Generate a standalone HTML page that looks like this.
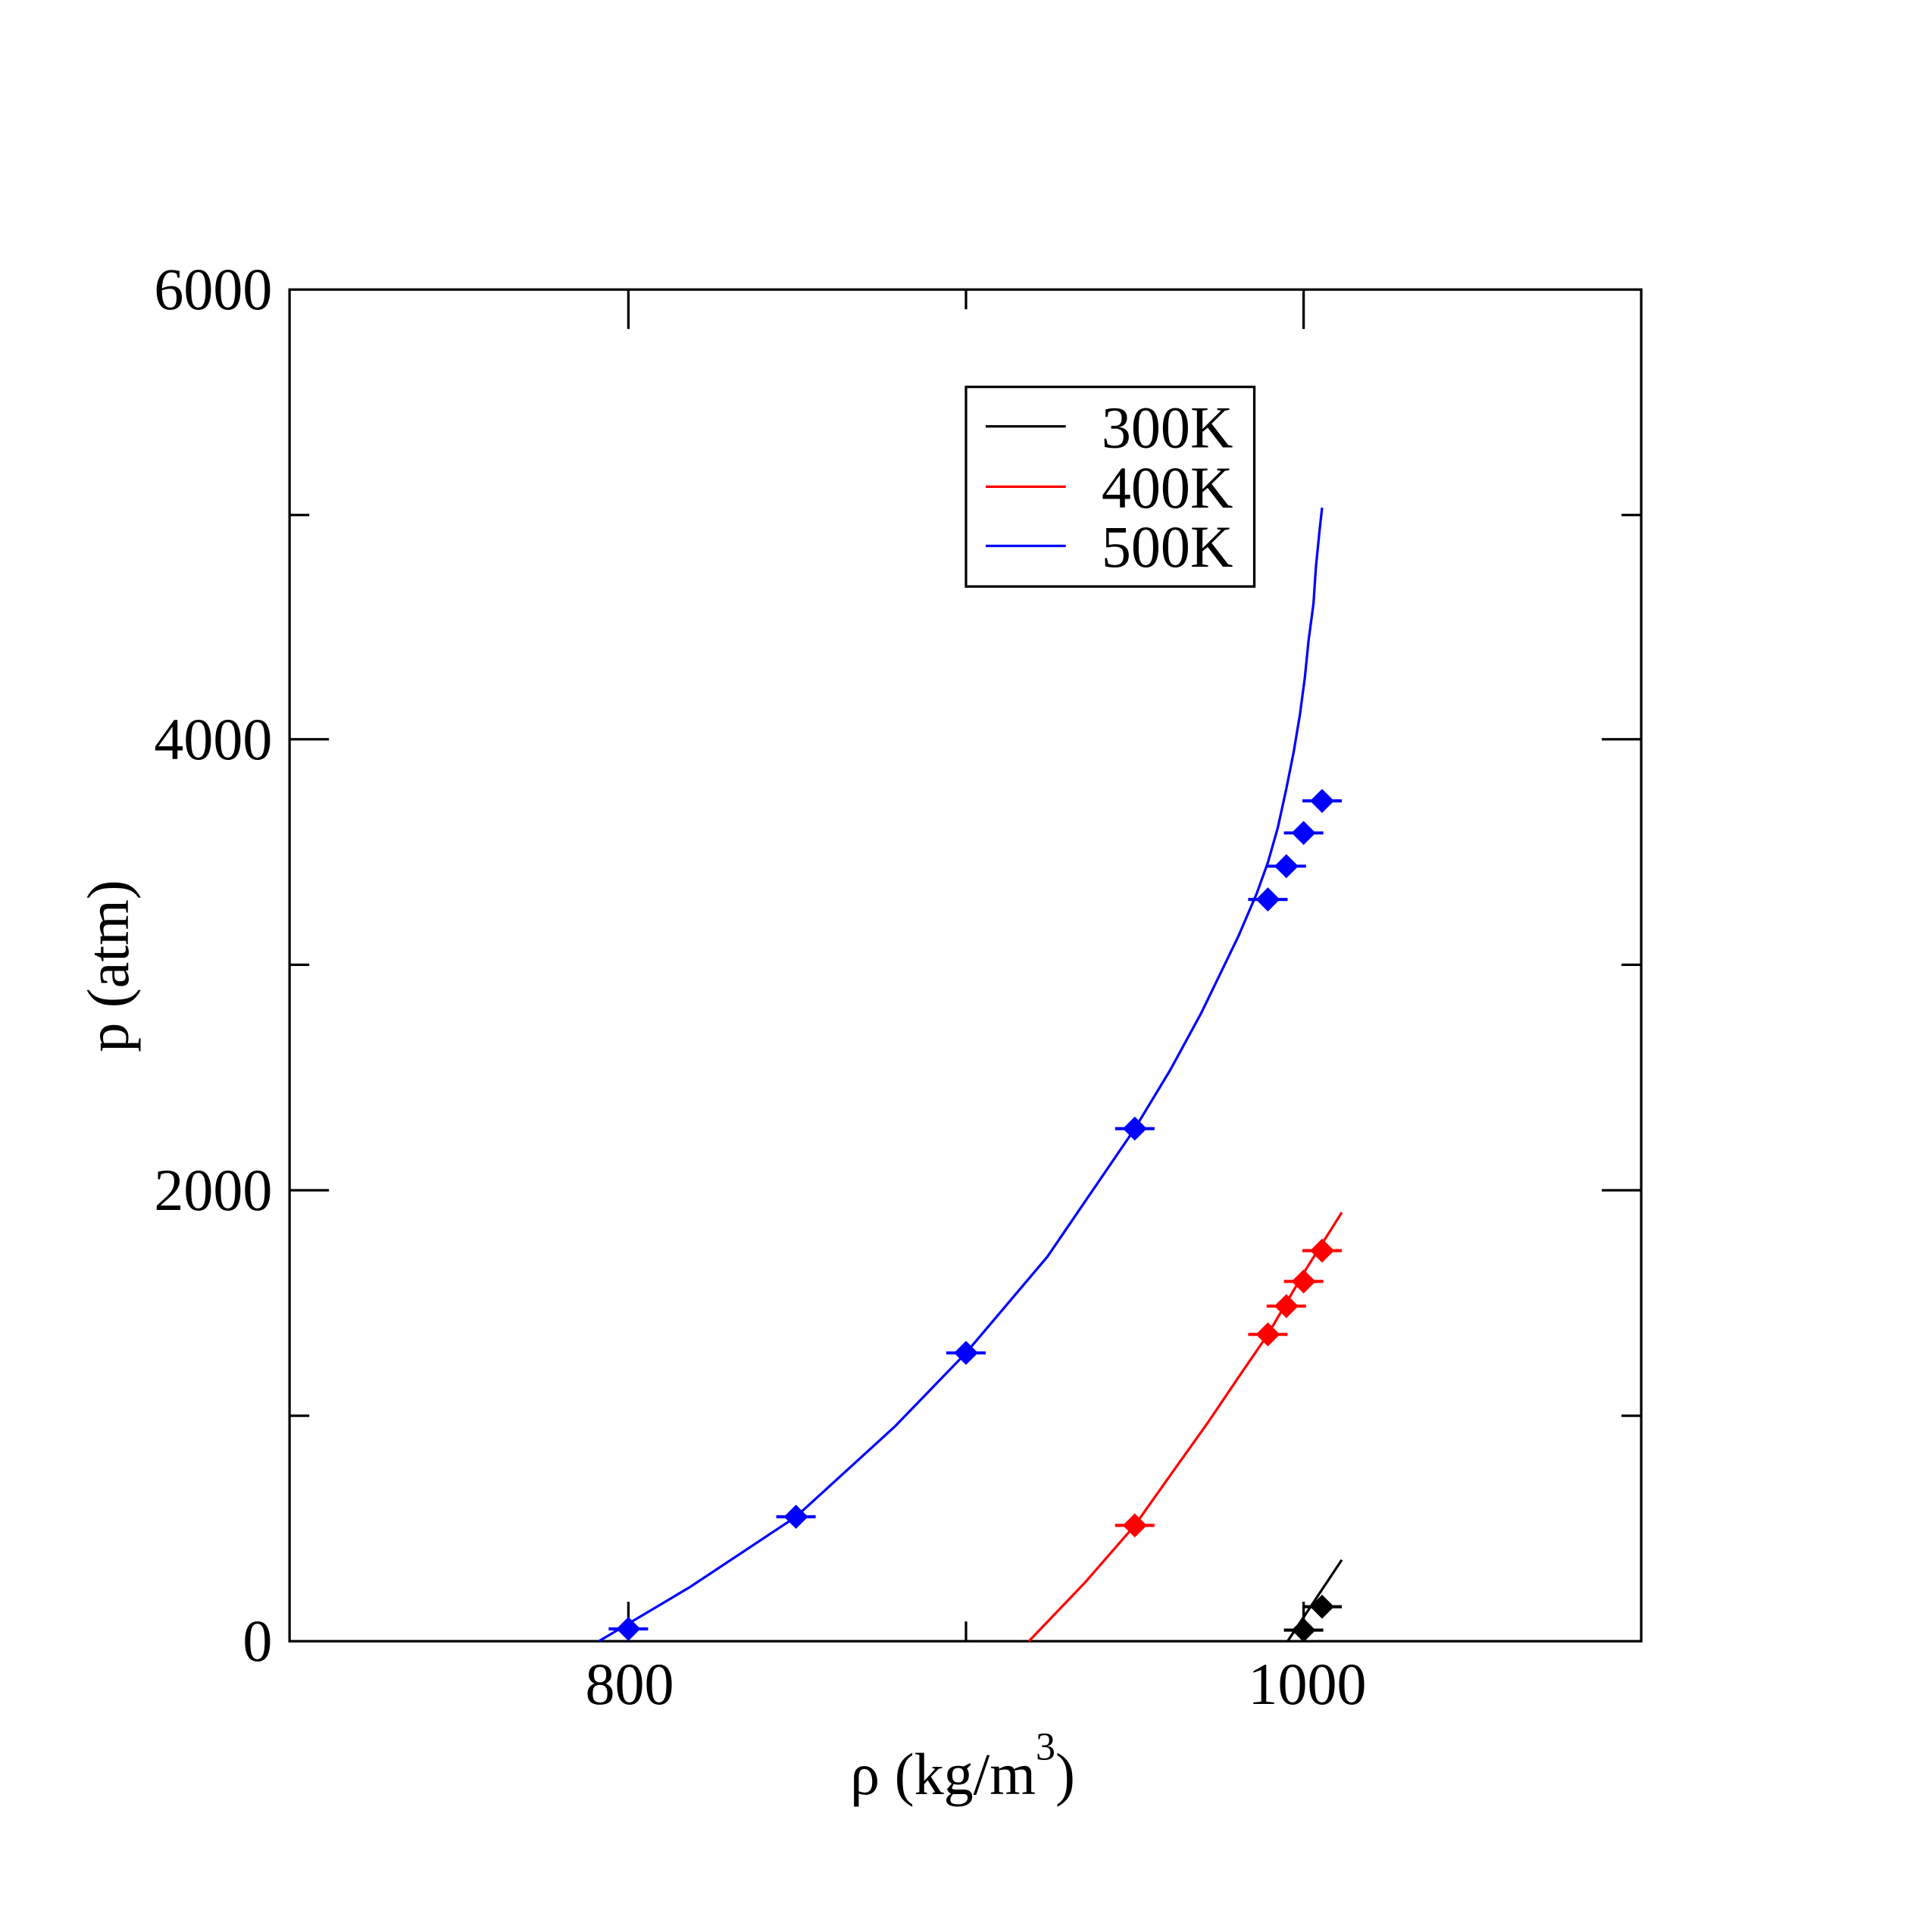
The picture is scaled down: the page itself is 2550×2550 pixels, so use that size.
<!DOCTYPE html>
<html><head><meta charset="utf-8"><style>
html,body{margin:0;padding:0;background:#fff}
svg{display:block}
text{font-family:"Liberation Serif",serif;fill:#000}
</style></head><body>
<svg width="2550" height="2550" viewBox="0 0 1568 1568" xmlns="http://www.w3.org/2000/svg">
<defs>
<g id="db"><path d="M-8,0 L0,-8 L8,0 L0,8 Z"/></g>
</defs>
<rect x="235" y="235" width="1097" height="1097" fill="none" stroke="#000" stroke-width="2"/>
<g stroke="#000" stroke-width="2">
<line x1="510" y1="1332" x2="510" y2="1300"/><line x1="1058" y1="1332" x2="1058" y2="1300"/>
<line x1="784" y1="1332" x2="784" y2="1316"/>
<line x1="510" y1="235" x2="510" y2="267"/><line x1="1058" y1="235" x2="1058" y2="267"/>
<line x1="784" y1="235" x2="784" y2="251"/>
<line x1="235" y1="966" x2="267" y2="966"/><line x1="235" y1="600" x2="267" y2="600"/>
<line x1="235" y1="1149" x2="251" y2="1149"/><line x1="235" y1="783" x2="251" y2="783"/><line x1="235" y1="418" x2="251" y2="418"/>
<line x1="1332" y1="966" x2="1300" y2="966"/><line x1="1332" y1="600" x2="1300" y2="600"/>
<line x1="1332" y1="1149" x2="1316" y2="1149"/><line x1="1332" y1="783" x2="1316" y2="783"/><line x1="1332" y1="418" x2="1316" y2="418"/>
</g>
<g font-size="48">
<text x="511" y="1383" text-anchor="middle">800</text>
<text x="1061" y="1383" text-anchor="middle">1000</text>
<text x="221" y="1348" text-anchor="end">0</text>
<text x="221" y="982" text-anchor="end">2000</text>
<text x="221" y="616" text-anchor="end">4000</text>
<text x="221" y="251" text-anchor="end">6000</text>
<text x="690" y="1456">ρ (kg/m<tspan font-size="32" dy="-28">3</tspan><tspan dy="28">)</tspan></text>
<text transform="translate(104,784) rotate(-90)" text-anchor="middle">p (atm)</text>
</g>
<!-- blue -->
<polyline fill="none" stroke="#00f" stroke-width="2" stroke-linejoin="round" points="486,1332 560,1288 646,1231 726,1158 784,1098 850,1020 921,916 950,868 975,822 1005,760 1020,725 1029,700 1037,672 1044,640 1050,610 1055,580 1059,550 1062,520 1066,490 1068,460 1071,430 1073,412"/>
<g fill="#00f" stroke="#00f" stroke-width="2.5">
<line x1="494" y1="1322" x2="526" y2="1322"/><use href="#db" x="510" y="1322"/>
<line x1="630" y1="1231" x2="662" y2="1231"/><use href="#db" x="646" y="1231"/>
<line x1="768" y1="1098" x2="800" y2="1098"/><use href="#db" x="784" y="1098"/>
<line x1="905" y1="916" x2="937" y2="916"/><use href="#db" x="921" y="916"/>
<line x1="1013" y1="730" x2="1045" y2="730"/><use href="#db" x="1029" y="730"/>
<line x1="1028" y1="703" x2="1060" y2="703"/><use href="#db" x="1044" y="703"/>
<line x1="1042" y1="676" x2="1074" y2="676"/><use href="#db" x="1058" y="676"/>
<line x1="1057" y1="650" x2="1089" y2="650"/><use href="#db" x="1073" y="650"/>
</g>
<!-- red -->
<polyline fill="none" stroke="#f00" stroke-width="2" stroke-linejoin="round" points="835,1332 880,1285 921,1238 950,1197 980,1155 1005,1118 1029,1083 1060,1030 1089,984"/>
<g fill="#f00" stroke="#f00" stroke-width="2.5">
<line x1="905" y1="1238" x2="937" y2="1238"/><use href="#db" x="921" y="1238"/>
<line x1="1013" y1="1083" x2="1045" y2="1083"/><use href="#db" x="1029" y="1083"/>
<line x1="1028" y1="1060" x2="1060" y2="1060"/><use href="#db" x="1044" y="1060"/>
<line x1="1042" y1="1040" x2="1074" y2="1040"/><use href="#db" x="1058" y="1040"/>
<line x1="1057" y1="1015" x2="1089" y2="1015"/><use href="#db" x="1073" y="1015"/>
</g>
<!-- black -->
<polyline fill="none" stroke="#000" stroke-width="2" points="1045,1332 1089,1266"/>
<g fill="#000" stroke="#000" stroke-width="2.5">
<line x1="1042" y1="1323" x2="1074" y2="1323"/><use href="#db" x="1058" y="1323"/>
<line x1="1057" y1="1304" x2="1089" y2="1304"/><use href="#db" x="1073" y="1304"/>
</g>
<!-- legend -->
<rect x="784" y="314" width="234" height="162" fill="#fff" stroke="#000" stroke-width="2"/>
<line x1="800" y1="346" x2="865" y2="346" stroke="#000" stroke-width="2"/>
<line x1="800" y1="395" x2="865" y2="395" stroke="#f00" stroke-width="2"/>
<line x1="800" y1="443" x2="865" y2="443" stroke="#00f" stroke-width="2"/>
<g font-size="48">
<text x="894" y="363">300K</text>
<text x="894" y="412">400K</text>
<text x="894" y="460">500K</text>
</g>
</svg>
</body></html>
